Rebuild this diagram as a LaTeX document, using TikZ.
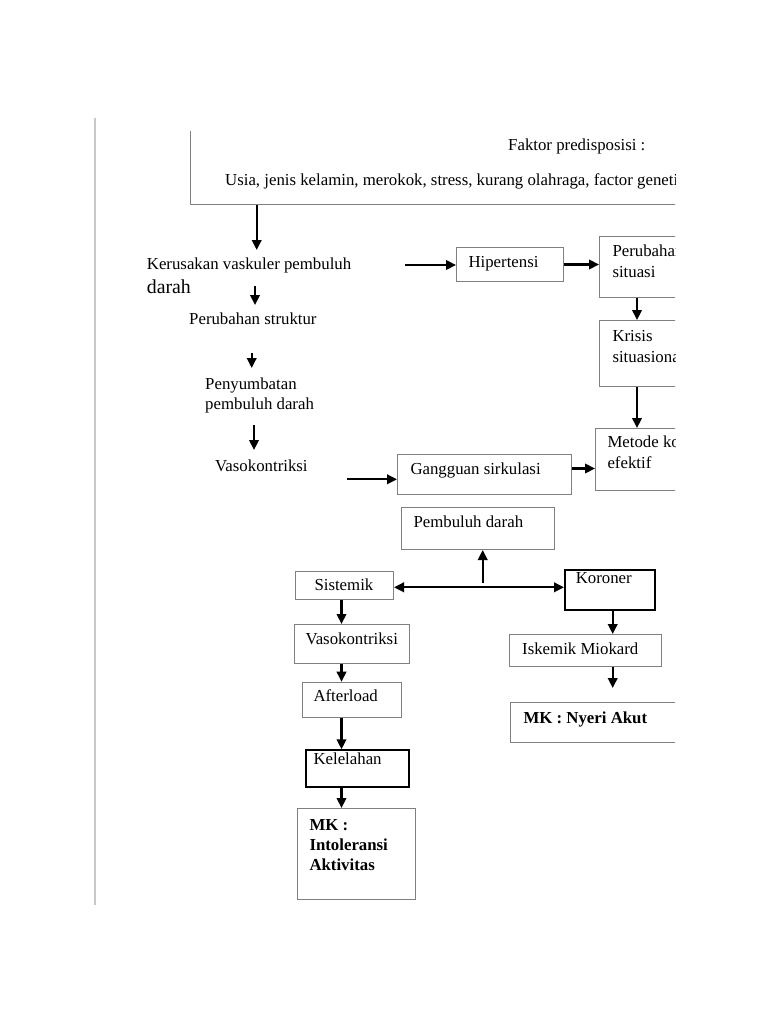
\documentclass[tikz,border=0pt]{standalone}
\usepackage{fontspec}
\setmainfont{Liberation Serif}
\usetikzlibrary{arrows.meta,positioning}
\definecolor{boxgray}{HTML}{808080}
\definecolor{margingray}{HTML}{C8C8C8}

\begin{document}
\begin{tikzpicture}[x=1pt,y=-1pt,
  font=\fontsize{16.8}{21}\selectfont,
  txt/.style={anchor=base west, inner sep=0pt},
  box/.style={draw=boxgray, line width=1pt, anchor=north west, align=flush left, inner ysep=0pt},
  darkbox/.style={box, draw=black, line width=1.6pt},
  arr/.style={-{Triangle[length=10pt,width=9.5pt]}, line width=2.2pt},
  mk/.style={font=\fontsize{16.8}{20}\selectfont\bfseries}]
\useasboundingbox (0,0) rectangle (768,1024);
\draw[margingray, line width=1.5pt] (95,118) -- (95,905);

\begin{scope}
\clip (0,0) rectangle (675,1024);
% faktor predisposisi
\coordinate (predtl) at (190.7,131);
\coordinate (predbl) at (190.7,205);
\draw[boxgray, line width=1pt] (predtl) -- (predbl) -- (700,205);
\node[txt] (faktor) at (508,151) {Faktor predisposisi :};
\node[txt] (usia) at (225,185.7) {Usia, jenis kelamin, merokok, stress, kurang olahraga, factor genetic};

% left column
\node[txt] (kerusakan) at (146.7,269) {Kerusakan vaskuler pembuluh};
\node[txt, font=\fontsize{19.8}{23}\selectfont] (darah) at (146.7,293) {darah};
\node[txt] (struktur) at (189,324) {Perubahan struktur};
\node[txt] (sumbat) at (205,389) {Penyumbatan};
\node[txt] (sumbat2) at (205,409) {pembuluh darah};
\node[txt] (vaso) at (215,471) {Vasokontriksi};

\coordinate (k1) at (256.7,205); \coordinate (k2) at (256.7,250);
\coordinate (k3) at (255,286);   \coordinate (k4) at (255,305);
\coordinate (k5) at (251.7,352.7); \coordinate (k6) at (251.7,368);
\coordinate (k7) at (254,425);   \coordinate (k8) at (254,450);
\draw[arr] (k1) -- (k2);
\draw[arr] (k3) -- (k4);
\draw[arr] (k5) -- (k6);
\draw[arr] (k7) -- (k8);

% right column
\node[box, text width=83pt, inner xsep=12pt, minimum height=34pt, text depth=5pt] (hip) at (456,247) {Hipertensi};
\node[box, text width=174pt, inner xsep=13pt, minimum height=61pt, text depth=32pt] (perub) at (599,236) {Perubahan\\situasi};
\node[box, text width=174pt, inner xsep=13pt, minimum height=66pt, text depth=36pt] (krisis) at (599,320) {Krisis\\situasional};
\node[box, text width=176pt, inner xsep=12pt, minimum height=62pt, text depth=36pt] (metode) at (595,428) {Metode koping tidak\\efektif};
\node[box, text width=148pt, inner xsep=13pt, minimum height=40pt, text depth=11pt] (gangguan) at (397,454) {Gangguan sirkulasi};

\coordinate (hipin) at (405,265);
\coordinate (gangin) at (347,479.3);
\coordinate (colR) at (637,0);
\draw[arr] (hipin) -- (hipin -| hip.west);
\draw[arr] (hip.east) -- (hip.east -| perub.west);
\draw[arr] (colR |- perub.south) -- (colR |- krisis.north);
\draw[arr] (colR |- krisis.south) -- (colR |- metode.north);
\draw[arr] (gangin) -- (gangin -| gangguan.west);
\draw[arr] ([yshift=6pt]gangguan.east) -- ([yshift=6pt]gangguan.east -| metode.west);

% pembuluh darah
\node[box, text width=129pt, inner xsep=12pt, minimum height=42.3pt, text depth=13pt] (pembuluh) at (401,506.7) {Pembuluh darah};
\node[box, text width=60pt, inner xsep=19pt, minimum height=28pt, text depth=1pt] (sistemik) at (295,571) {Sistemik};
\node[darkbox, text width=68pt, inner xsep=11pt, minimum height=40pt, text depth=23pt] (koroner) at (564,569) {Koroner};

\coordinate (split) at (482.7,587.3);
\draw[arr] (split) -- (split -| sistemik.east);
\draw[arr] (split) -- (split -| koroner.west);
\draw[arr] ([yshift=4.6pt]split) -- (split |- pembuluh.south);

% sistemik
\node[box, text width=93pt, inner xsep=11pt, minimum height=38.7pt, text depth=10pt] (vaso2) at (294,624) {Vasokontriksi};
\node[box, text width=76.7pt, inner xsep=11.3pt, minimum height=35.6pt, text depth=8pt] (afterload) at (301.7,681.7) {Afterload};
\node[darkbox, text width=87.6pt, inner xsep=7.7pt, minimum height=36.7pt, text depth=20pt] (kelelahan) at (305,749.3) {Kelelahan};
\node[box, mk, text width=94pt, inner xsep=12pt, minimum height=91pt, text depth=58pt] (intoleransi) at (297,808) {MK :\\Intoleransi\\Aktivitas};

\coordinate (colL) at (341.5,0);
\draw[arr] (colL |- sistemik.south) -- (colL |- vaso2.north);
\draw[arr] (colL |- vaso2.south) -- (colL |- afterload.north);
\draw[arr] (colL |- afterload.south) -- (colL |- kelelahan.north);
\draw[arr] (colL |- kelelahan.south) -- (colL |- intoleransi.north);

% koroner
\node[box, text width=126.3pt, inner xsep=12.7pt, minimum height=31.7pt, text depth=3pt] (iskemik) at (509,634) {Iskemik Miokard};
\node[box, mk, text width=174pt, inner xsep=13pt, minimum height=40pt, text depth=10pt] (nyeri) at (510,701.7) {MK : Nyeri Akut};

\coordinate (colM) at (612.7,0);
\coordinate (nyeriin) at (612.7,688);
\draw[arr] (colM |- koroner.south) -- (colM |- iskemik.north);
\draw[arr] (colM |- iskemik.south) -- (nyeriin);
\end{scope}
\end{tikzpicture}
\end{document}
